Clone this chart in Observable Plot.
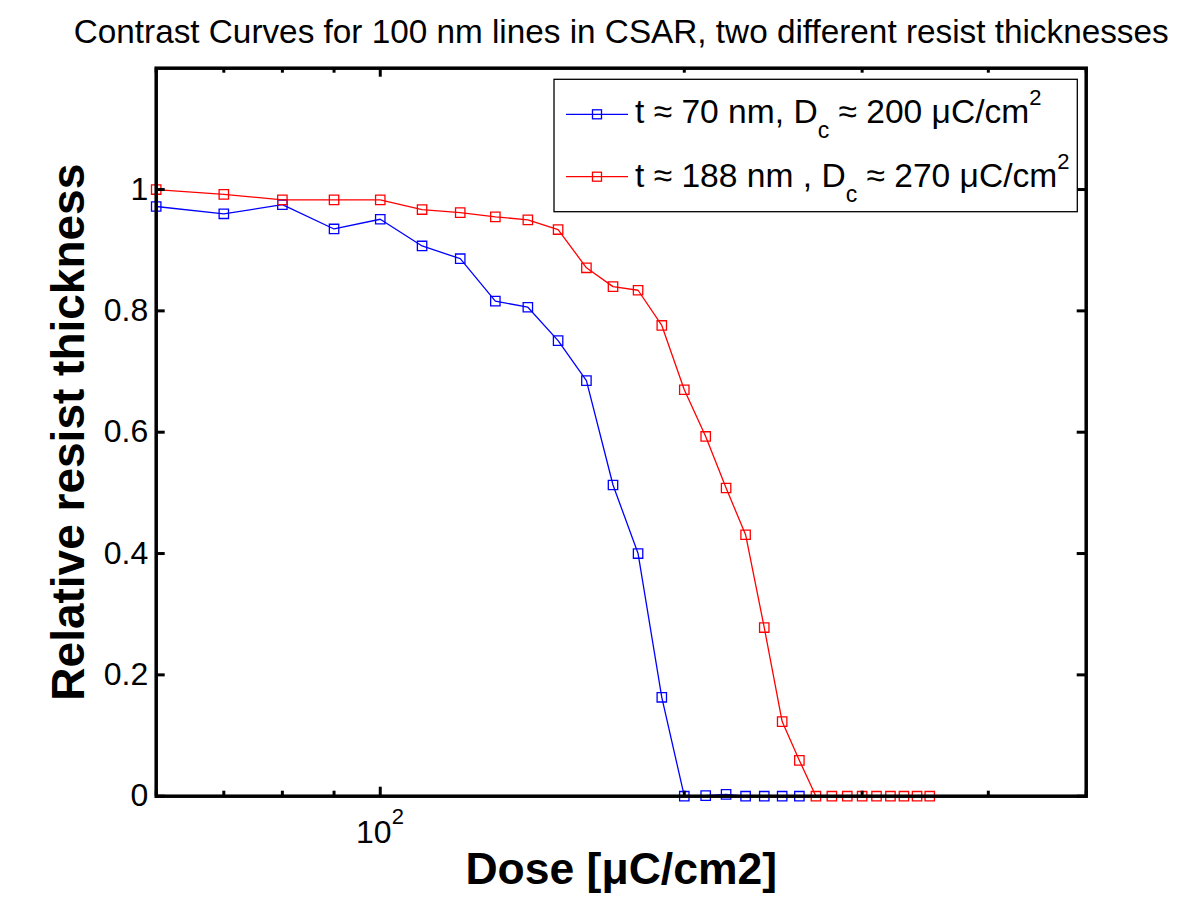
<!DOCTYPE html>
<html>
<head>
<meta charset="utf-8">
<script src="https://cdn.jsdelivr.net/npm/d3@7"></script>
<script src="https://cdn.jsdelivr.net/npm/@observablehq/plot@0.6"></script>
<style>
  body { margin: 0; background: #fff; }
  #chart { position: relative; width: 1200px; height: 900px; }
</style>
</head>
<body>
<div id="chart"></div>
<script>
// ---- data ----
const doseBlue  = [60, 70, 80, 90, 100, 110, 120, 130, 140, 150, 160, 170, 180, 190, 200, 210, 220, 230, 240, 250, 260];
const thickBlue = [0.972, 0.960, 0.975, 0.935, 0.951, 0.907, 0.886, 0.816, 0.806, 0.751, 0.685, 0.513, 0.400, 0.163, 0.000, 0.001, 0.003, 0.000, 0.000, 0.000, 0.000];

const doseRed  = [60, 70, 80, 90, 100, 110, 120, 130, 140, 150, 160, 170, 180, 190, 200, 210, 220, 230, 240, 250, 260, 270, 280, 290, 300, 310, 320, 330, 340, 350];
const thickRed = [1.000, 0.992, 0.983, 0.983, 0.983, 0.967, 0.962, 0.955, 0.950, 0.934, 0.871, 0.840, 0.834, 0.776, 0.670, 0.593, 0.508, 0.431, 0.278, 0.123, 0.059, 0, 0, 0, 0, 0, 0, 0, 0, 0];

const seriesColors = ["#0000ff", "#ff0000"];
const seriesLabels = [
  ["t \u2248 70 nm, D", "c", " \u2248 200 \u03bcC/cm", "2"],
  ["t \u2248 188 nm , D", "c", " \u2248 270 \u03bcC/cm", "2"]
];

const xMinorTicks = [60, 70, 80, 90, 200, 300, 400, 500];
const xMajorTicks = [100];
const xMajorLabels = [["10", "2"]];
const yTicks = [0, 0.2, 0.4, 0.6, 0.8, 1];
const yTickLabels = ["0", "0.2", "0.4", "0.6", "0.8", "1"];

const titleText = "Contrast Curves for 100 nm lines in CSAR, two different resist thicknesses";
const xLabelText = "Dose [\u03bcC/cm2]";
const yLabelText = "Relative resist thickness";

// ---- layout ----
const W = 1200, H = 900;
const mL = 155.7, mR = 114.3, mT = 67.7, mB = 104.3;
const fW = W - mL - mR, fH = H - mT - mB;
const FONT = "'Liberation Sans', Arial, Helvetica, sans-serif";

const blue = doseBlue.map((d, i) => ({dose: d, thick: thickBlue[i]}));
const red = doseRed.map((d, i) => ({dose: d, thick: thickRed[i]}));

const series = [blue, red];
const dataMarks = [];
series.forEach((s, k) => {
  dataMarks.push(Plot.line(s, {x: "dose", y: "thick", stroke: seriesColors[k], strokeWidth: 1.3}));
  dataMarks.push(Plot.dot(s, {x: "dose", y: "thick", symbol: "square", r: 5.3, stroke: seriesColors[k], fill: "none", strokeWidth: 1.3}));
});

const tickStyle = {stroke: "black", strokeWidth: 3};

const plot = Plot.plot({
  width: W,
  height: H,
  marginLeft: mL, marginRight: mR, marginTop: mT, marginBottom: mB,
  style: {fontFamily: FONT, background: "white", color: "black", overflow: "visible"},
  x: {type: "log", domain: [60, 500], axis: null},
  y: {domain: [0, 1.2], axis: null},
  marks: [
    ...dataMarks,
    Plot.frame({stroke: "black", strokeWidth: 3.5}),
    // x ticks (bottom + top), inward
    Plot.tickX(xMinorTicks, {x: d => d, insetTop: fH - 5, ...tickStyle}),
    Plot.tickX(xMinorTicks, {x: d => d, insetBottom: fH - 5, ...tickStyle}),
    Plot.tickX(xMajorTicks, {x: d => d, insetTop: fH - 9, ...tickStyle}),
    Plot.tickX(xMajorTicks, {x: d => d, insetBottom: fH - 9, ...tickStyle}),
    // y ticks (left + right), inward
    Plot.tickY(yTicks, {y: d => d, insetRight: fW - 9, ...tickStyle}),
    Plot.tickY(yTicks, {y: d => d, insetLeft: fW - 9, ...tickStyle}),
    // y tick labels
    Plot.text(yTicks, {y: d => d, text: (d, i) => yTickLabels[i], frameAnchor: "left", textAnchor: "end", dx: -8, fontSize: 32, fill: "black"}),
    // x tick label 10^2
    Plot.text(xMajorTicks, {x: d => d, text: (d, i) => xMajorLabels[i][0], frameAnchor: "bottom", textAnchor: "middle", lineAnchor: "bottom", dy: 46.5, dx: -6.5, fontSize: 32, fill: "black"}),
    Plot.text(xMajorTicks, {x: d => d, text: (d, i) => xMajorLabels[i][1], frameAnchor: "bottom", lineAnchor: "bottom", textAnchor: "start", dy: 27.5, dx: 11.5, fontSize: 22, fill: "black"}),
    // title
    Plot.text([titleText], {text: d => d, frameAnchor: "top", textAnchor: "middle", lineAnchor: "bottom", dy: -25, fontSize: 33.3, fill: "black"}),
    // axis labels
    Plot.text([xLabelText], {text: d => d, frameAnchor: "bottom", textAnchor: "middle", lineAnchor: "bottom", dy: 87.3, fontSize: 44.5, fontWeight: "bold", fill: "black"}),
    Plot.text([yLabelText], {text: d => d, frameAnchor: "left", textAnchor: "middle", lineAnchor: "bottom", rotate: -90, dx: -72.4, fontSize: 46, fontWeight: "bold", fill: "black"})
  ]
});

document.getElementById("chart").appendChild(plot);

// ---- legend ----
const svg = d3.select(plot);
const lg = svg.append("g").attr("font-family", FONT).attr("text-anchor", "start");
lg.append("rect")
  .attr("x", 554).attr("y", 79.3).attr("width", 523.3).attr("height", 132.4)
  .attr("fill", "white").attr("stroke", "black").attr("stroke-width", 1.3);
const rowCenters = [114.3, 176.7];
const rowBaselines = [123.3, 186.7];
seriesLabels.forEach((parts, k) => {
  const cy = rowCenters[k];
  lg.append("line").attr("x1", 566).attr("x2", 628).attr("y1", cy).attr("y2", cy)
    .attr("stroke", seriesColors[k]).attr("stroke-width", 1.3);
  lg.append("rect").attr("x", 597 - 4.5).attr("y", cy - 4.5).attr("width", 9).attr("height", 9)
    .attr("fill", "none").attr("stroke", seriesColors[k]).attr("stroke-width", 1.3);
  const t = lg.append("text").attr("x", 635).attr("y", rowBaselines[k])
    .attr("text-anchor", "start")
    .attr("font-size", 33.6).attr("fill", "black").style("white-space", "pre");
  t.append("tspan").text(parts[0]);
  t.append("tspan").attr("dy", 15).attr("font-size", 23).text(parts[1]);
  t.append("tspan").attr("dy", -15).text(parts[2]);
  t.append("tspan").attr("dy", -18).attr("font-size", 22).text(parts[3]);
});
</script>
</body>
</html>
